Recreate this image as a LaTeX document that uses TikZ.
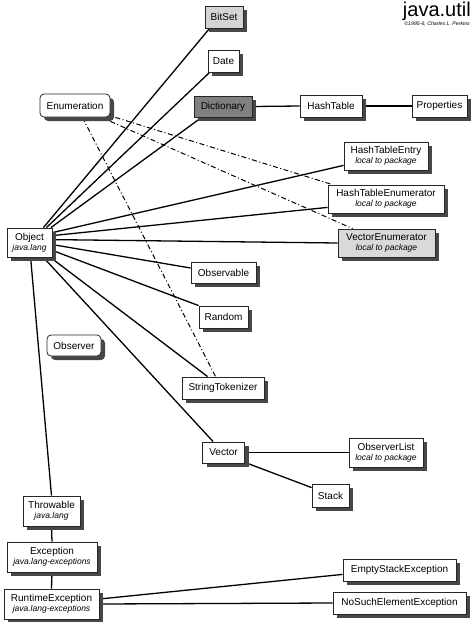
\documentclass[tikz,border=0pt]{standalone}
\usepackage{fontspec}
\setmainfont{Liberation Sans}
\usetikzlibrary{shadows,backgrounds}
\newcommand\pkgtxt[1]{{\fontsize{8.5}{10}\selectfont\itshape #1}}
\begin{document}
\begin{tikzpicture}[x=1pt,y=-1pt,
  cls/.style={draw=black!85, line width=0.8pt, fill=white, inner sep=0pt,
    font=\fontsize{10}{11}\selectfont, align=center,
    drop shadow={shadow xshift=4pt, shadow yshift=-4pt, fill=black!72, opacity=1}},
  iface/.style={cls, rounded corners=4pt},
  link/.style={line width=1.3pt},
  impl/.style={line width=1pt, dash pattern=on 5pt off 2.5pt on 1pt off 2.5pt}
]
\useasboundingbox (0,0) rectangle (474,622);

% title
\node[anchor=base east, font=\fontsize{20}{20}\selectfont, inner sep=0pt] (title) at (471,16.7) {java.util};
\node[anchor=base east, font=\fontsize{5.2}{6}\selectfont\itshape, inner sep=0pt] (copy) at (470,25.7) {©1995-6, Charles L. Perkins};

% nodes
\node[cls, fill=black!17, minimum width=38pt, minimum height=22pt] (bitset) at (224,17) {BitSet};
\node[cls, minimum width=31pt, minimum height=22pt] (date) at (223.5,61) {Date};
\node[cls, fill=black!50, minimum width=58pt, minimum height=21pt] (dict) at (223,106.5) {Dictionary};
\node[cls, minimum width=62pt, minimum height=22pt] (ht) at (331,106) {HashTable};
\node[cls, minimum width=55pt, minimum height=22pt] (props) at (439.5,106) {Properties};
\node[iface, minimum width=70pt, minimum height=23pt] (enum) at (75,105.5) {Enumeration};
\node[cls, minimum width=84pt, minimum height=28pt] (hte) at (386,156) {HashTableEntry\\[-1pt]\pkgtxt{local to package}};
\node[cls, minimum width=116pt, minimum height=28pt] (htenum) at (386,199) {HashTableEnumerator\\[-1pt]\pkgtxt{local to package}};
\node[cls, fill=black!15, minimum width=97pt, minimum height=28pt] (venum) at (386.5,243) {VectorEnumerator\\[-1pt]\pkgtxt{local to package}};
\node[cls, minimum width=45pt, minimum height=29pt] (obj) at (29.5,242.5) {Object\\[-1pt]\pkgtxt{java.lang}};
\node[cls, minimum width=65pt, minimum height=21pt] (observable) at (223.5,272.5) {Observable};
\node[cls, minimum width=49pt, minimum height=22pt] (random) at (223.5,317) {Random};
\node[iface, minimum width=54pt, minimum height=21pt] (observer) at (74,345.5) {Observer};
\node[cls, minimum width=82pt, minimum height=22pt] (strtok) at (223,388) {StringTokenizer};
\node[cls, minimum width=42pt, minimum height=21pt] (vector) at (223.5,452.5) {Vector};
\node[cls, minimum width=74pt, minimum height=29pt] (obslist) at (386,452.5) {ObserverList\\[-1pt]\pkgtxt{local to package}};
\node[cls, minimum width=37pt, minimum height=23pt] (stack) at (330.5,495.5) {Stack};
\node[cls, minimum width=57pt, minimum height=30pt] (throwable) at (51.5,511) {Throwable\\[-1pt]\pkgtxt{java.lang}};
\node[cls, minimum width=90pt, minimum height=30pt] (exc) at (52,557) {Exception\\[-1pt]\pkgtxt{java.lang-exceptions}};
\node[cls, minimum width=95pt, minimum height=30pt] (rte) at (51.5,604) {RuntimeException\\[-1pt]\pkgtxt{java.lang-exceptions}};
\node[cls, minimum width=113pt, minimum height=22pt] (ese) at (399.5,570) {EmptyStackException};
\node[cls, minimum width=133pt, minimum height=22pt] (nse) at (399.5,603) {NoSuchElementException};

% connectors
\begin{pgfonlayer}{background}
\draw[link] ([xshift=-9pt]obj.north east) -- ([xshift=5pt]bitset.south west);
\draw[link] ([xshift=-6pt]obj.north east) -- ([xshift=2pt]date.south west);
\draw[link] ([xshift=-1.5pt]obj.north east) -- ([xshift=8pt]dict.south west);
\draw[link] ([yshift=-5pt]obj.north east) -- ([yshift=5pt]hte.south west);
\draw[link] ([yshift=-8pt]obj.north east) -- ([yshift=6pt]htenum.south west);
\draw[link] ([yshift=-12pt]obj.north east) -- (venum.west);
\draw[link] ([yshift=-17pt]obj.north east) -- ([yshift=4.5pt]observable.west);
\draw[link] ([yshift=7pt]obj.south east) -- (random.north west);
\draw[link] ([xshift=-2pt]obj.south east) -- ([xshift=26pt]strtok.north west);
\draw[link] ([xshift=-9pt]obj.south east) -- ([xshift=11pt]vector.north west);
\draw[link] ([xshift=24pt]obj.south west) -- (throwable.north);
\draw[link] (throwable.south) -- (exc.north);
\draw[link] (exc.south) -- (rte.north);
\draw[link] ([yshift=5pt]rte.east) -- ([yshift=7pt]ese.south west);
\draw[link] (rte.east) -- (nse.west);
\draw[link] (vector.east) -- (obslist.west);
\draw[link] ([yshift=1pt]vector.south east) -- ([yshift=-4pt]stack.north west);
\draw[link] (dict.east) -- (ht.west);
\draw[link] (ht.east) -- (props.west);
\draw[impl] ([xshift=-28pt]enum.south east) -- ([xshift=34pt]strtok.north west);
\draw[impl] ([xshift=5pt]enum.south east) -- ([xshift=5pt]htenum.north west);
\draw[impl] ([yshift=-4pt]enum.south east) -- ([xshift=15pt]venum.north west);
\end{pgfonlayer}
\end{tikzpicture}
\end{document}
